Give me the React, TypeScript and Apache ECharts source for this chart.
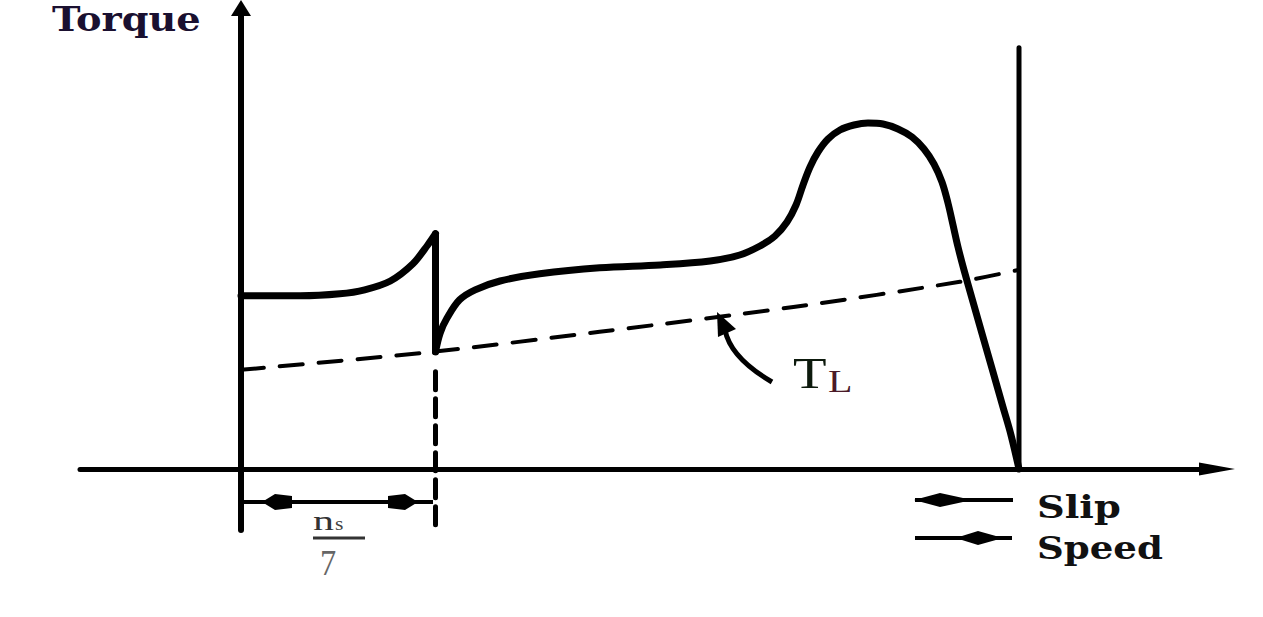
import React, { useEffect, useRef } from "react";
import * as echarts from "echarts";

// Speed in % of synchronous speed (0 = standstill, 100 = n_s); torque in arbitrary units.
const lowSpeed = [0, 7.6, 12.7, 15.9, 19.2, 22.1, 24.0, 25];
const lowTorque = [43.3, 43.3, 43.8, 44.8, 47.0, 51.3, 56.0, 58.8];

const cogSpeed = [25, 25];
const cogTorque = [58.8, 29.3];

const mainSpeed = [25, 25.6, 26.5, 28.1, 30.1, 33.3, 38.4, 46.1, 53.9, 60.3, 64.1, 66.71, 68.64, 70.18, 71.34, 72.24, 73.14, 74.16, 75.45, 76.99, 78.79, 80.59, 82.52, 84.45, 86.25, 87.79, 89.07, 90.1, 90.87, 91.52, 92.16, 92.93, 94.09, 95.37, 96.66, 97.94, 98.97, 100];
const mainTorque = [29.3, 34.0, 37.8, 42.3, 44.8, 47.0, 48.8, 50.3, 51.0, 52.0, 53.5, 55.75, 58.25, 61.75, 66.0, 71.0, 75.5, 79.25, 82.5, 84.75, 86.0, 86.5, 86.25, 85.0, 83.0, 80.0, 76.25, 71.75, 66.5, 61.0, 55.5, 49.75, 41.75, 33.0, 24.25, 15.5, 8.5, 0];

const loadSpeed = [0, 24.7, 46.1, 71.0, 92.4, 100];
const loadTorque = [24.8, 29.3, 34.3, 40.5, 46.8, 49.8];

const seventhSpeed = [25, 25];
const seventhTorque = [24.3, -14];

const syncSpeed = [100, 100];
const syncTorque = [0, 105.3];

const zip = (xs: number[], ys: number[]) => xs.map((x, i) => [x, ys[i]]);

// layout constants (pixels)
const W = 1263;
const H = 617;
const ORIGIN_X = 241;
const ORIGIN_Y = 469;
const PX_PER_X = 7.78;
const PX_PER_Y = 4;
const GRID_LEFT = 80;
const GRID_RIGHT = 46;
const GRID_TOP = 8;
const GRID_BOTTOM = 87;

const xMin = -(ORIGIN_X - GRID_LEFT) / PX_PER_X;
const xMax = (W - GRID_RIGHT - ORIGIN_X) / PX_PER_X;
const yMax = (ORIGIN_Y - GRID_TOP) / PX_PER_Y;
const yMin = -(H - GRID_BOTTOM - ORIGIN_Y) / PX_PER_Y;

const lineSeries = (data: number[][], width: number, type: any, smooth: number | boolean = false) => ({
  type: "line",
  data,
  symbol: "none",
  smooth,
  clip: false,
  silent: true,
  lineStyle: { color: "#000", width, type, cap: "round", join: "round" },
});

const txt = (text: string, x: number, y: number, font: string, fill: string, scaleX = 1) => ({
  type: "text",
  x,
  y,
  scaleX,
  style: { text, x: 0, y: 0, font, fill, textAlign: "left", align: "left", textVerticalAlign: "middle", verticalAlign: "middle" },
});

export default function App() {
  const ref = useRef<HTMLDivElement>(null);
  useEffect(() => {
    if (!ref.current) return;
    const chart = echarts.init(ref.current, undefined, { renderer: "svg" });
    chart.setOption({
      animation: false,
      backgroundColor: "#fff",
      grid: { left: GRID_LEFT, right: GRID_RIGHT, top: GRID_TOP, bottom: GRID_BOTTOM },
      xAxis: {
        type: "value",
        min: xMin,
        max: xMax,
        axisLine: { show: true, onZero: true, symbol: ["none", "triangle"], symbolSize: [13, 36], lineStyle: { color: "#000", width: 5 } },
        axisTick: { show: false },
        axisLabel: { show: false },
        splitLine: { show: false },
      },
      yAxis: {
        type: "value",
        min: yMin,
        max: yMax,
        axisLine: { show: true, onZero: true, symbol: ["none", "triangle"], symbolSize: [20, 16], lineStyle: { color: "#000", width: 6 } },
        axisTick: { show: false },
        axisLabel: { show: false },
        splitLine: { show: false },
      },
      series: [
        lineSeries(zip(loadSpeed, loadTorque), 4, [23, 16], 0.3),
        lineSeries(zip(seventhSpeed, seventhTorque), 5, [18, 9]),
        lineSeries(zip(syncSpeed, syncTorque), 5, "solid"),
        lineSeries(zip(lowSpeed, lowTorque), 7, "solid", 0.3),
        lineSeries(zip(cogSpeed, cogTorque), 7, "solid"),
        lineSeries(zip(mainSpeed, mainTorque), 7, "solid", 0.35),
      ],
      graphic: [
        // n_s / 7 double arrow
        { type: "line", shape: { x1: 243, y1: 502, x2: 433, y2: 502 }, style: { stroke: "#000", lineWidth: 4 } },
        { type: "polygon", shape: { points: [[262, 502], [275, 494], [292, 496], [292, 508], [275, 510]] }, style: { fill: "#000" } },
        { type: "polygon", shape: { points: [[418, 502], [405, 494], [388, 496], [388, 508], [405, 510]] }, style: { fill: "#000" } },
        // slip arrow
        { type: "line", shape: { x1: 915, y1: 500, x2: 1013, y2: 500 }, style: { stroke: "#000", lineWidth: 4 } },
        { type: "polygon", shape: { points: [[914, 500], [940, 493], [963, 498], [963, 502], [940, 507]] }, style: { fill: "#000" } },
        // speed arrow
        { type: "line", shape: { x1: 915, y1: 538, x2: 1012, y2: 538 }, style: { stroke: "#000", lineWidth: 4 } },
        { type: "polygon", shape: { points: [[1003, 538], [978, 531], [962, 536], [962, 540], [978, 545]] }, style: { fill: "#000" } },
        // T_L pointer
        { type: "bezierCurve", shape: { x1: 772, y1: 382, x2: 725, y2: 330, cpx1: 748, cpy1: 368, cpx2: 729, cpy2: 350 }, style: { stroke: "#000", lineWidth: 5, fill: null } },
        { type: "polygon", shape: { points: [[717, 312], [736, 329], [718, 337]] }, style: { fill: "#000" } },
        // fraction bar
        { type: "line", shape: { x1: 313, y1: 538, x2: 365, y2: 538 }, style: { stroke: "#333", lineWidth: 3 } },
        txt("Torque", 52, 19, 'bold 33px "DejaVu Serif"', "#1a1030", 1.16),
        txt("Slip", 1037, 507, 'bold 32px "DejaVu Serif"', "#111", 1.2),
        txt("Speed", 1037, 547, 'bold 32px "DejaVu Serif"', "#111", 1.16),
        txt("T", 793, 373, '45px "Liberation Serif"', "#0d1a0d", 1.22),
        txt("L", 828, 381, '32px "Liberation Serif"', "#4a1a28", 1.25),
        txt("n", 313, 521, '28px "Liberation Serif"', "#333", 1.5),
        txt("s", 335, 524, '18px "Liberation Serif"', "#444", 1.2),
        txt("7", 320, 562, '36px "Liberation Serif"', "#666", 0.9),
      ],
    });
    return () => chart.dispose();
  }, []);
  return <div ref={ref} style={{ position: "fixed", left: 0, top: 0, width: W, height: H, background: "#fff" }} />;
}
